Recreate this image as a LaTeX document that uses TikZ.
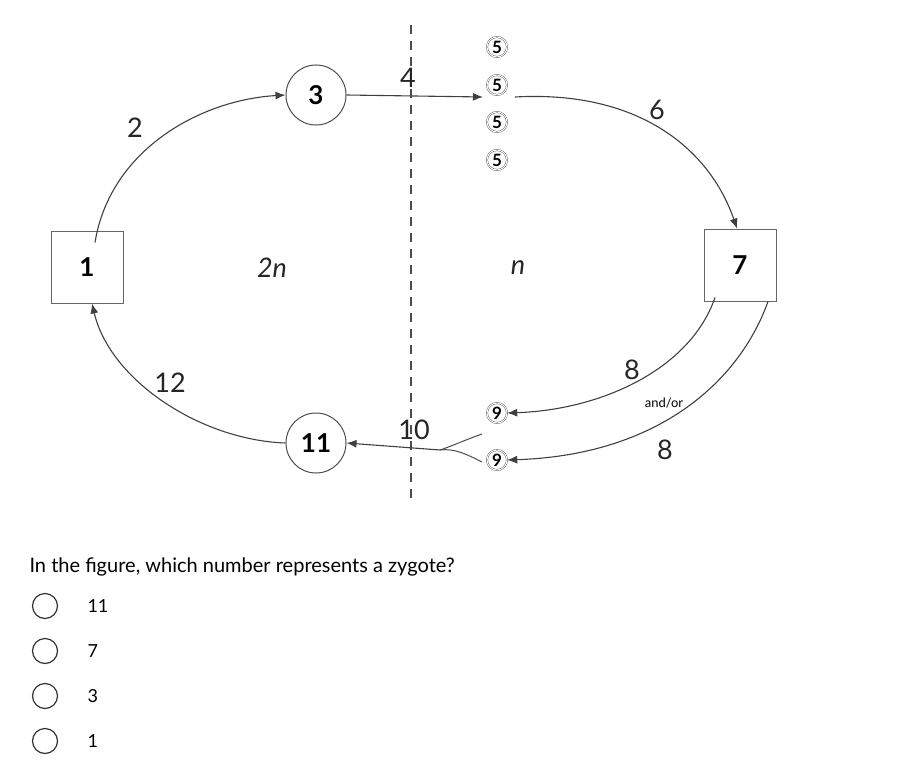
\documentclass[tikz,border=0pt]{standalone}
\usepackage{fontspec}
\setmainfont{Lato}
\usetikzlibrary{arrows.meta}
\begin{document}
\begin{tikzpicture}[x=1pt,y=-1pt,
  lbl/.style={font=\fontsize{27}{30}\selectfont,text=black!85},
  bx/.style={draw=black!60,line width=1pt,minimum width=72pt,minimum height=72pt,inner sep=0pt,font=\fontsize{26}{30}\selectfont\bfseries},
  cir/.style={draw=black!70,line width=1pt,circle,minimum size=60pt,inner sep=0pt,font=\fontsize{26}{30}\selectfont\bfseries},
  sm/.style={draw=black!70,circle,double,double distance=1pt,minimum size=20pt,inner sep=0pt,font=\fontsize{17}{18}\selectfont\bfseries},
  con/.style={draw=black!75,line width=1.1pt,-{Latex[length=10pt,width=8pt]}},
  opt/.style={draw=black!80,circle,line width=1.2pt,minimum size=25pt,inner sep=0pt},
  otx/.style={anchor=west,font=\fontsize{18}{20}\selectfont}]
\useasboundingbox (0,0) rectangle (918,760);
\node[bx] (b1) at (87,267) {1};
\node[bx] (b7) at (740,265) {7};
\node[cir] (c3) at (316,95) {3};
\node[cir] (c11) at (316,443) {11};
\node[sm] (f1) at (497,47) {5};
\node[sm] (f2) at (497,85) {5};
\node[sm] (f3) at (497,122) {5};
\node[sm] (f4) at (497,160) {5};
\node[sm] (n1) at (497,413) {9};
\node[sm] (n2) at (497,460) {9};
\coordinate (top) at (411,25);
\coordinate (bot) at (411,505);
\draw[black!70,line width=1.2pt,dash pattern=on 9pt off 7pt] (top) -- (bot);
\draw[con] ([xshift=8pt,yshift=-12pt]b1.north) .. controls (110,150) and (200,100) .. (c3.west);
\draw[con] (c3.east) -- (483,97);
\draw[con] (515,97) .. controls (640,90) and (710,150) .. ([xshift=-3pt]b7.north);
\draw[con] ([xshift=-25pt,yshift=4pt]b7.south) .. controls (690,370) and (600,410) .. (n1.east);
\draw[con] ([xshift=28pt,yshift=0pt]b7.south) .. controls (740,380) and (660,455) .. (n2.east);
\coordinate (m) at (440,450);
\draw[black!70,line width=1pt] (482,434) .. controls (465,440) and (452,446) .. (m);
\draw[black!70,line width=1pt] (482,462) .. controls (468,455) and (455,448) .. (m);
\draw[con] (m) -- (c11.east);
\draw[con] (c11.west) .. controls (200,440) and (110,380) .. ([xshift=5pt]b1.south);
\node[lbl] (l2) at (135,128) {2};
\node[lbl] (l4) at (408,78) {4};
\node[lbl] (l6) at (657,110) {6};
\node[lbl] (l2n) at (272,268) {\itshape 2n};
\node[lbl] (ln) at (518,268) {\itshape n};
\node[lbl] (l12) at (170,383) {12};
\node[lbl] (l10) at (414,430) {10};
\node[lbl] (l8a) at (632,370) {8};
\node[font=\fontsize{13}{14}\selectfont,fill=white,inner sep=1pt] (ao) at (664,403) {and/or};
\node[lbl] (l8b) at (665,450) {8};
\node[anchor=west,font=\fontsize{20}{24}\selectfont] (q) at (26,567) {In the figure, which number represents a zygote?};
\node[opt] (o1) at (45,606) {}; \node[otx] (t1) at (84,606) {11};
\node[opt] (o2) at (45,651) {}; \node[otx] (t2) at (84,651) {7};
\node[opt] (o3) at (45,696) {}; \node[otx] (t3) at (84,696) {3};
\node[opt] (o4) at (45,741) {}; \node[otx] (t4) at (84,741) {1};
\end{tikzpicture}
\end{document}
